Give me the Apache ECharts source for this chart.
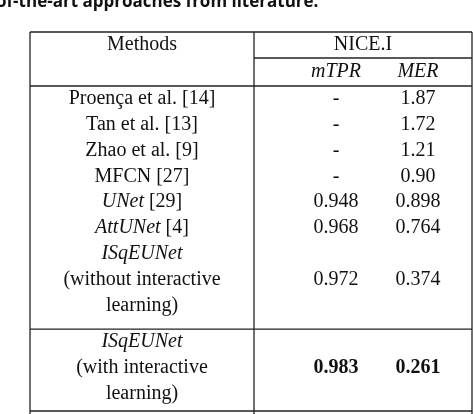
<!DOCTYPE html>
<html><head><meta charset="utf-8">
<script src="https://cdn.jsdelivr.net/npm/echarts@6/dist/echarts.min.js"></script>
<style>html,body{margin:0;padding:0;background:#fff}#c{width:474px;height:414px}</style>
</head><body><div id="c"></div>
<script>
const caption = 'of-the-art approaches from literature.';
const headers = ['Methods', 'NICE.I'];
const metrics = ['mTPR', 'MER'];
const methods = [
  ['Proença et al. [14]'], ['Tan et al. [13]'], ['Zhao et al. [9]'], ['MFCN [27]'],
  ['UNet [29]'], ['AttUNet [4]'],
  ['ISqEUNet', '(without interactive', 'learning)'],
  ['ISqEUNet', '(with interactive', 'learning)']
];
const mtpr = ['-', '-', '-', '-', '0.948', '0.968', '0.972', '0.983'];
const mer = ['1.87', '1.72', '1.21', '0.90', '0.898', '0.764', '0.374', '0.261'];
const italicNames = ['UNet', 'AttUNet', 'ISqEUNet'];

const chart = echarts.init(document.getElementById('c'));
const serif = '"Liberation Serif", "DejaVu Serif", serif';
const FS = '20px ';
const L = 30, M = 254, R = 472, colM = 142, colA = 336, colB = 418;
const els = [];
function txt(x, y, s, opt) {
  els.push({type: 'text', x: x, y: y, style: Object.assign({text: s, font: FS + serif, fill: '#111', textAlign: 'center', textVerticalAlign: 'middle'}, opt || {})});
}
function line(x1, y1, x2, y2) {
  els.push({type: 'line', shape: {x1: x1, y1: y1, x2: x2, y2: y2}, style: {stroke: '#222', lineWidth: 1.3}});
}
els.push({type: 'text', x: -4, y: 2, style: {text: caption, font: 'bold 17px "Open Sans", sans-serif', fill: '#111', textVerticalAlign: 'middle'}});
txt(colM, 45, headers[0]); txt((M + R) / 2, 45, headers[1]);
txt(colA, 72, metrics[0], {font: 'italic ' + FS + serif});
txt(colB, 72, metrics[1], {font: 'italic ' + FS + serif});
line(L, 32, R, 32); line(M, 58, R, 58); line(L, 86, R, 86);
let y = 99;
const step = 25.8;
methods.forEach((lines, i) => {
  if (i === 7) { line(L, y - 2, R, y - 2); y += 11; }
  const start = y;
  lines.forEach((s) => {
    const base = s.split(' ')[0];
    if (italicNames.indexOf(base) >= 0) {
      const rest = s.slice(base.length);
      els.push({type: 'text', x: colM, y: y, style: {rich: {i: {font: 'italic ' + FS + serif, fill: '#111'}, n: {font: FS + serif, fill: '#111'}}, text: '{i|' + base + '}{n|' + rest + '}', textAlign: 'center', textVerticalAlign: 'middle'}});
    } else txt(colM, y, s);
    y += step;
  });
  const mid = start + (lines.length - 1) * step / 2;
  const b = i === 7 ? {font: 'bold ' + FS + serif} : {};
  txt(colA, mid, mtpr[i], b); txt(colB, mid, mer[i], b);
});
line(L, 411, R, 411);
line(L, 32, L, 414); line(M, 32, M, 414); line(R, 32, R, 414);
chart.setOption({animation: false, graphic: {elements: els}});
</script></body></html>
